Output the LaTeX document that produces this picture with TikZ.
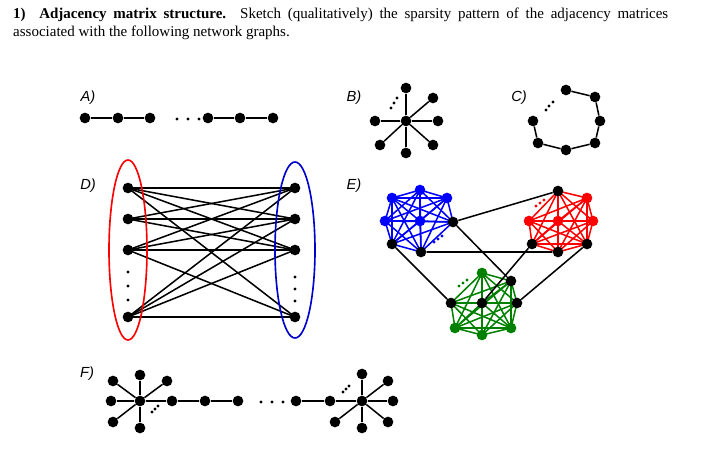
\documentclass[tikz,border=0pt]{standalone}
\usepackage{fontspec}
\setmainfont{Liberation Serif}
\newfontfamily\lab{Liberation Sans}
\pgfdeclarelayer{bg}
\pgfsetlayers{bg,main}
\begin{document}
\begin{tikzpicture}[x=0.03cm,y=-0.03cm,
  v/.style={circle,fill=black,inner sep=0pt,minimum size=0.32cm},
  e/.style={line width=1.3pt},
  lbl/.style={font=\lab\fontsize{12.5}{14}\selectfont\itshape,inner sep=0pt},
  dt/.style={circle,fill=black,inner sep=0pt,minimum size=2.8pt}]
\useasboundingbox (0,0) rectangle (722,460);
\node[anchor=north west,inner sep=0pt,text width=19.65cm,align=justify,font=\fontsize{12.8}{15}\selectfont] (title) at (13,8)
{\textbf{1)\ \ Adjacency matrix structure.} Sketch (qualitatively) the sparsity pattern of the adjacency matrices\linebreak associated with the following network graphs.};
% labels
\node[lbl] (la) at (88,98) {A)};
\node[lbl] (lb) at (354,98) {B)};
\node[lbl] (lc) at (519,98) {C)};
\node[lbl] (ld) at (88,186) {D)};
\node[lbl] (le) at (354,186) {E)};
\node[lbl] (lf) at (87,374) {F)};
% A
\foreach \n/\x in {1/85,2/118,3/150,4/208,5/240,6/273} \node[v] (a\n) at (\x,118) {};
\draw[e] (a1)--(a2)--(a3) (a4)--(a5)--(a6);
\foreach \x in {177,188,199} \node[dt] at (\x,119) {};
% B
\node[v] (bc) at (406,121) {};
\foreach \n/\p in {1/{406,88},2/{433,98},3/{438,121},4/{433,145},5/{406,153},6/{380,145},7/{375,121}}
  {\node[v] (b\n) at (\p) {}; \draw[e] (bc)--(b\n);}
\foreach \p in {{391,108},{394,103},{397,98}} \node[dt] at (\p) {};
% C
\foreach \n/\p in {1/{566,90},2/{595,97},3/{600,121},4/{595,143},5/{566,150},6/{538,143},7/{533,121}}
  \node[v] (c\n) at (\p) {};
\draw[e] (c1)--(c2)--(c3)--(c4)--(c5)--(c6)--(c7);
\foreach \p in {{546,110},{549,106},{553,102}} \node[dt] at (\p) {};
% D
\draw[red,line width=1.4pt] (128,250) ellipse [x radius=19,y radius=90];
\draw[blue!80!black,line width=1.4pt] (295,250) ellipse [x radius=20,y radius=88];
\foreach \n/\y in {1/188,2/219,3/250,4/317} {\node[v] (l\n) at (128,\y) {}; \node[v] (r\n) at (295,\y) {};}
\begin{pgfonlayer}{bg}
\foreach \i in {1,...,4} \foreach \j in {1,...,4} {\ifnum\i\j=24\else\draw[e] (l\i.center)--(r\j.center);\fi}
\end{pgfonlayer}
\foreach \y in {272,286,300} \node[dt] at (128,\y) {};
\foreach \y in {277,289,301} \node[dt] at (295,\y) {};
% E clusters
\foreach \n/\p/\c in {1/{392,198}/blue,2/{420,190}/blue,3/{447,198}/blue,4/{385,221}/blue,5/{420,221}/blue,6/{453,222}/black,7/{392,244}/black,8/{421,252}/black}
  \node[v,fill=\c] (eb\n) at (\p) {};
\foreach \n/\p/\c in {1/{558,191}/black,2/{587,198}/red,3/{529,221}/red,4/{558,221}/red,5/{593,221}/red,6/{532,244}/black,7/{558,252}/black,8/{587,244}/black}
  \node[v,fill=\c] (er\n) at (\p) {};
\foreach \n/\p/\c in {1/{482,273}/green!50!black,2/{511,281}/black,3/{451,303}/black,4/{482,303}/black,5/{517,303}/black,6/{455,328}/green!50!black,7/{482,335}/green!50!black,8/{511,328}/green!50!black}
  \node[v,fill=\c] (eg\n) at (\p) {};
\begin{pgfonlayer}{bg}
\foreach \i in {1,...,8} \foreach \j in {1,...,8} {\ifnum\i<\j
  \draw[e,blue] (eb\i.center)--(eb\j.center); \draw[e,red] (er\i.center)--(er\j.center); \draw[e,green!50!black] (eg\i.center)--(eg\j.center);\fi}
\draw[e] (eb6)--(er1) (eb6)--(eg2) (eb8)--(er7) (eb7)--(eg3) (er6)--(eg4) (er8)--(eg5);
\end{pgfonlayer}
\foreach \p in {{434,242},{438,239},{442,236}} \node[dt,fill=blue] at (\p) {};
\foreach \p in {{536,206},{540,203},{544,200}} \node[dt,fill=red] at (\p) {};
\foreach \p in {{459,286},{463,283},{467,280}} \node[dt,fill=green!50!black] at (\p) {};
% F
\node[v] (fl) at (140,401) {};
\foreach \n/\p in {1/{113,381},2/{140,375},3/{167,381},4/{111,401},5/{113,422},6/{140,428}}
  {\node[v] (fl\n) at (\p) {}; \draw[e] (fl)--(fl\n);}
\foreach \p in {{152,412},{155,409},{158,406}} \node[dt] at (\p) {};
\foreach \n/\x in {1/172,2/205,3/238,4/296,5/330} \node[v] (fc\n) at (\x,401) {};
\node[v] (fr) at (362,401) {};
\draw[e] (fl)--(fc1)--(fc2)--(fc3) (fc4)--(fc5)--(fr);
\foreach \x in {261,272,283} \node[dt] at (\x,402) {};
\foreach \n/\p in {1/{362,374},2/{388,381},3/{393,401},4/{388,422},5/{362,428},6/{335,422}}
  {\node[v] (fr\n) at (\p) {}; \draw[e] (fr)--(fr\n);}
\foreach \p in {{343,392},{346,389},{349,386}} \node[dt] at (\p) {};
\end{tikzpicture}
\end{document}
